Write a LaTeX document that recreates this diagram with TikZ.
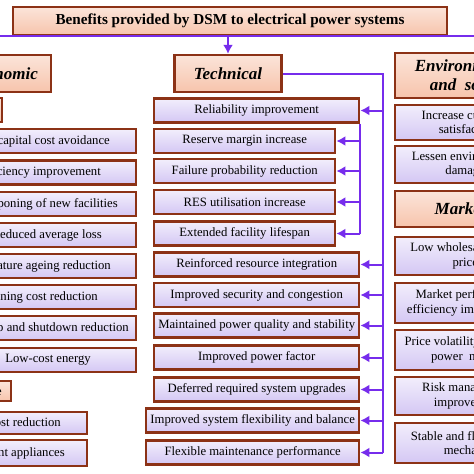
\documentclass[tikz,border=0pt]{standalone}
\usepackage{fontspec}
\setmainfont{Liberation Serif}
\usetikzlibrary{arrows.meta,positioning,calc}
\definecolor{boxline}{RGB}{140,50,22}
\definecolor{itemfill}{RGB}{212,199,244}
\definecolor{headfill}{RGB}{247,196,172}
\definecolor{linkcol}{RGB}{118,44,236}

\begin{document}
\begin{tikzpicture}[x=1pt,y=-1pt,
    box/.style={draw=boxline,line width=2.4pt,inner sep=0pt,align=center},
    item/.style={box,top color=white!70!itemfill,bottom color=itemfill,
      font=\fontsize{12.7}{14.5}\selectfont,minimum height=24pt},
    head/.style={box,top color=white!55!headfill,bottom color=headfill,
      font=\fontsize{17}{19}\selectfont\bfseries\itshape},
    conn/.style={draw=linkcol,line width=2pt},
    arr/.style={conn,-{Latex[length=9pt,width=10pt]}}]
  \useasboundingbox (0,0) rectangle (474,474);
  \fill[white] (0,0) rectangle (474,474);
  \clip (0,0) rectangle (474,474);

  % title and the visible headers
  \node[head,font=\fontsize{15.2}{17}\selectfont\bfseries,minimum width=434pt,minimum height=28pt] (title) at (230,21) {Benefits provided by DSM to electrical power systems};
  \node[head,anchor=east,inner xsep=13pt,minimum height=37pt] (econ) at (52,73.5) {Economic};
  \node[head,minimum width=107pt,minimum height=37pt] (tech) at (228,73.5) {Technical};
  \node[head,anchor=west,minimum width=145pt,minimum height=45pt] (env) at (394,75.5) {Environmental\\and~~social};

  % economic column (cut by the left edge)
  \node[head,font=\fontsize{12.7}{14.5}\selectfont,anchor=east,inner xsep=9pt,minimum height=24pt] (util) at (3,110) {Utility side};
  \node[item,anchor=east,inner xsep=26pt] (capex) at (137,141) {Generation capital cost avoidance};
  \node[item,anchor=east,inner xsep=35pt] (eff) at (137,172.5) {Energy efficiency improvement};
  \node[item,anchor=east,inner xsep=18pt] (post) at (137,204) {Postponing of new facilities};
  \node[item,anchor=east,inner xsep=34pt] (loss) at (137,235) {Reduced average loss};
  \node[item,anchor=east,inner xsep=25pt] (age) at (137,266) {Premature ageing reduction};
  \node[item,anchor=east,inner xsep=38pt] (run) at (137,297) {Running cost reduction};
  \node[item,anchor=east,inner xsep=7pt] (stop) at (137,328) {Startup and shutdown reduction};
  \node[item,anchor=east,inner xsep=45pt] (cheap) at (137,360) {Low-cost energy};
  \node[head,font=\fontsize{12.7}{14.5}\selectfont,anchor=east,inner xsep=9pt,minimum height=20pt] (cons) at (12,391) {Customer side};
  \node[item,anchor=east,inner xsep=26pt,minimum height=22pt] (bill) at (88,423) {Electricity cost reduction};
  \node[item,anchor=east,inner xsep=22pt,minimum height=26pt] (appl) at (88,453) {Efficient appliances};

  % technical column
  \node[item,anchor=west,minimum width=205pt] (rel) at (153,110.5) {Reliability improvement};
  \node[item,anchor=west,minimum width=181pt] (res) at (153,141) {Reserve margin increase};
  \node[item,anchor=west,minimum width=181pt] (fail) at (153,171) {Failure probability reduction};
  \node[item,anchor=west,minimum width=181pt] (resu) at (153,202) {RES utilisation increase};
  \node[item,anchor=west,minimum width=181pt] (life) at (153,233.5) {Extended facility lifespan};
  \node[item,anchor=west,minimum width=205pt] (integ) at (153,264.5) {Reinforced resource integration};
  \node[item,anchor=west,minimum width=205pt] (secu) at (153,295) {Improved security and congestion};
  \node[item,anchor=west,minimum width=205pt] (pq) at (153,325.5) {Maintained power quality and stability};
  \node[item,anchor=west,minimum width=205pt] (pf) at (153,357.5) {Improved power factor};
  \node[item,anchor=west,minimum width=205pt] (upg) at (153,389.5) {Deferred required system upgrades};
  \node[item,anchor=west,minimum width=213pt] (flex) at (145,420.5) {Improved system flexibility and balance};
  \node[item,anchor=west,minimum width=213pt] (maint) at (145,452.5) {Flexible maintenance performance};

  % environmental / market column (cut by the right edge)
  \node[item,anchor=west,minimum width=145pt,minimum height=35pt] (sat) at (394,122.5) {Increase customer\\satisfaction};
  \node[item,anchor=west,minimum width=145pt,minimum height=37pt] (dmg) at (394,164.5) {Lessen environmental\\damages};
  \node[head,anchor=west,minimum width=130pt,minimum height=36pt] (mkt) at (394,209) {Market};
  \node[item,anchor=west,minimum width=145pt,minimum height=38pt] (whole) at (394,256) {Low wholesale energy\\prices};
  \node[item,anchor=west,minimum width=145pt,minimum height=40pt] (perf) at (394,303) {Market performance\\efficiency improvement};
  \node[item,anchor=west,minimum width=145pt,minimum height=40pt] (vol) at (394,350) {Price volatility reduction\\power~~market};
  \node[item,anchor=west,minimum width=145pt,minimum height=38pt] (risk) at (394,396) {Risk management\\improvement};
  \node[item,anchor=west,minimum width=155pt,minimum height=40pt] (tariff) at (394,443) {Stable and flexible tariff\\mechanism};

  % connectors
  \coordinate (lineL) at (-20,0);
  \coordinate (lineR) at (500,0);
  \coordinate (busO) at (383,0);
  \draw[conn] (title.south -| lineL) -- (title.south -| lineR);
  \draw[arr] (title.south -| tech) -- (tech.north);
  \draw[conn] (tech.east) -| (busO |- maint.east);
  \draw[conn] (rel.south east) -- (rel.south east |- life.east);
  % inner bus arrows
  \draw[arr] (rel.south east |- res.east) -- (res.east);
  \draw[arr] (rel.south east |- fail.east) -- (fail.east);
  \draw[arr] (rel.south east |- resu.east) -- (resu.east);
  \draw[arr] (rel.south east |- life.east) -- (life.east);
  % outer bus arrows
  \draw[arr] (busO |- rel.east) -- (rel.east);
  \draw[arr] (busO |- integ.east) -- (integ.east);
  \draw[arr] (busO |- secu.east) -- (secu.east);
  \draw[arr] (busO |- pq.east) -- (pq.east);
  \draw[arr] (busO |- pf.east) -- (pf.east);
  \draw[arr] (busO |- upg.east) -- (upg.east);
  \draw[arr] (busO |- flex.east) -- (flex.east);
  \draw[arr] (busO |- maint.east) -- (maint.east);
\end{tikzpicture}
\end{document}
